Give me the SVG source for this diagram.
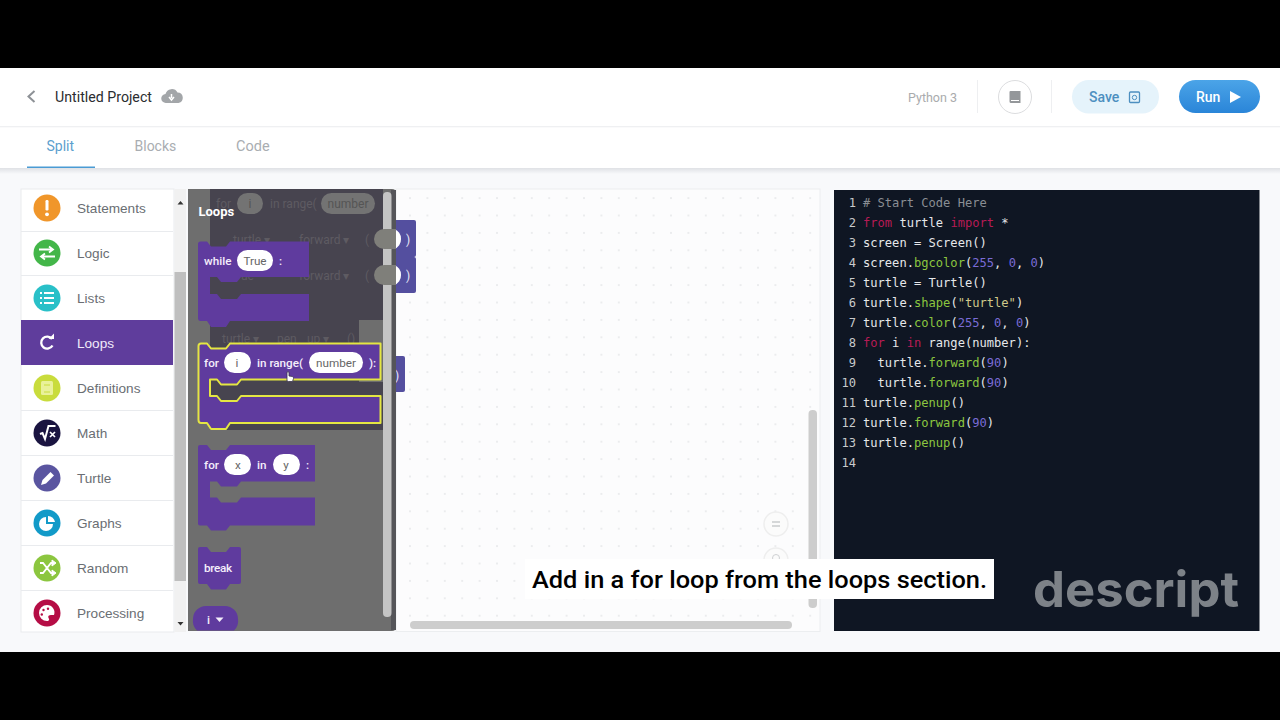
<svg xmlns="http://www.w3.org/2000/svg" width="1280" height="720" viewBox="0 0 1280 720">
<style>
text{font-family:"Roboto","Liberation Sans",sans-serif}
.cat{font-family:"Liberation Sans",Arial,sans-serif;font-size:13.6px;fill:#6a6e73}
.sep{stroke:#e9ebee;stroke-width:1}
.ic{fill:#fff}
.blk{fill:#5f3b9e}
.bt{font-size:11.700px;font-weight:500;fill:#f4eefb}
.pill{fill:#fff}
.pt{font-size:11.700px;fill:#666;text-anchor:middle}
.gh{font-size:12px;fill:#5e5b62}
.ghp{fill:#737373}
.code{font-family:"DejaVu Sans Mono","Liberation Mono",monospace;font-size:12.1px;fill:#e6e8ea}
.ln{font-family:"DejaVu Sans Mono","Liberation Mono",monospace;font-size:12.1px;fill:#c8cacc;text-anchor:end}
.k{fill:#b81b55}.f{fill:#8cc63f}.n{fill:#7a6cd6}.s{fill:#cfc98a}.c{fill:#8a8e94}
</style>
<defs>
<pattern id="dots" x="410" y="441.7" width="17.4" height="17.4" patternUnits="userSpaceOnUse"><rect x="-0.6" y="-0.6" width="1.2" height="1.2" fill="#cfd2d6"/><rect x="16.8" y="-0.6" width="1.2" height="1.2" fill="#cfd2d6"/><rect x="-0.6" y="16.8" width="1.2" height="1.2" fill="#cfd2d6"/><rect x="16.8" y="16.8" width="1.2" height="1.2" fill="#cfd2d6"/></pattern>
<linearGradient id="runG" x1="0" y1="0" x2="0" y2="1"><stop offset="0" stop-color="#4ba4e8"/><stop offset="1" stop-color="#2a85d8"/></linearGradient>
<linearGradient id="shad" x1="0" y1="0" x2="0" y2="1"><stop offset="0" stop-color="#dfe1e5"/><stop offset="1" stop-color="#f8f9fb"/></linearGradient>
</defs>

<rect width="1280" height="720" fill="#000"/>
<rect y="68" width="1280" height="584" fill="#f8f9fb"/>

<g id="header">
<rect y="68" width="1280" height="58" fill="#fff"/>
<rect y="126" width="1280" height="1.5" fill="#eff0f2"/>
<path d="M34.5 91 L28.500 96.500 L34.500 102" fill="none" stroke="#8d9196" stroke-width="2"/>
<text x="55" y="101.500" font-size="14.200" fill="#2b2d30">Untitled Project</text>
<path d="M166 103 a4.500 4.500 0 0 1 -.5 -9 a6.500 6.500 0 0 1 12 -1.500 a5.300 5.300 0 0 1 1 10.500 Z" fill="#a3a6a9"/>
<path d="M171.500 94 v4 M169 97 l2.500 3 l2.500 -3" fill="none" stroke="#fff" stroke-width="1.500"/>
<text x="908" y="101.500" font-size="12.500" fill="#a9abad">Python 3</text>
<rect x="977" y="80" width="1" height="33" fill="#eeeff1"/>
<rect x="1051" y="80" width="1" height="33" fill="#eeeff1"/>
</g>
<g id="book-button">
<circle cx="1015" cy="97" r="16.500" fill="#fff" stroke="#dcdddf"/>
<path d="M1009.500 92 q0 -1 1 -1 h10 v12 h-9.500 a1.500 1.500 0 0 1 -1.500 -1.500 Z" fill="#94979a"/>
<rect x="1011" y="100" width="8" height="1" fill="#fff"/>
</g>
<g id="save-button">
<rect x="1072" y="80" width="87" height="33.500" rx="16.700" fill="#e5f3fb"/>
<text x="1089" y="101.500" font-size="14" font-weight="500" fill="#4c8fc0">Save</text>
<rect x="1129.500" y="92" width="10" height="10.500" rx="1" fill="none" stroke="#4c8fc0" stroke-width="1.300"/>
<circle cx="1134.500" cy="97.500" r="2.200" fill="none" stroke="#4c8fc0"/>
</g>
<g id="run-button">
<rect x="1179" y="80" width="81" height="33" rx="16.500" fill="url(#runG)"/>
<text x="1196" y="101.500" font-size="14" font-weight="500" fill="#fff">Run</text>
<path d="M1230 91 L1241 97 L1230 103 Z" fill="#fff"/>
</g>

<g id="tabs">
<rect y="127.500" width="1280" height="40.500" fill="#fff"/>
<rect y="168" width="1280" height="6" fill="url(#shad)"/>
<text x="46.500" y="151" font-size="14" fill="#5c9fce">Split</text>
<text x="134.500" y="151" font-size="14" fill="#a9adb1">Blocks</text>
<text x="236" y="151" font-size="14.500" fill="#a9adb1">Code</text>
<rect x="27" y="166.500" width="68" height="1.500" fill="#4a9bd4"/>
</g>

<g id="canvas">
<rect x="396" y="189" width="424" height="442.500" fill="#fcfcfd" stroke="#eceef0"/>
<rect x="396" y="189" width="424" height="442" fill="url(#dots)"/>
<circle cx="776" cy="524" r="12" fill="#fbfbfb" stroke="#eeeeee" stroke-width="1.500"/>
<path d="M772 522 h8 M772 526 h8" stroke="#c9cbcd" stroke-width="1.700"/>
<circle cx="776" cy="560" r="12" fill="#fbfbfb" stroke="#eeeeee" stroke-width="1.500"/>
<circle cx="776" cy="558" r="3.500" fill="none" stroke="#cfd1d3"/>
<rect x="808.500" y="410" width="8.500" height="198" rx="4" fill="#cdcdcd"/>
<rect x="410" y="621" width="382" height="8" rx="4" fill="#cdcdcd"/>
</g>

<g id="sidebar">
<rect x="21" y="189" width="153" height="443" fill="#fff" stroke="#e9ebee"/>
<path class="sep" d="M21 231.500H173M21 275.500H173M21 410.500H173M21 455.500H173M21 500.500H173M21 545.500H173M21 590.500H173"/>
<rect x="174.500" y="189" width="11.500" height="443" fill="#f1f1f1"/>
<rect x="174.500" y="272" width="11.500" height="309" fill="#bfbfbf"/>
<path d="M177.500 204.500 h6 l-3 -3.500 Z M177.500 622 h6 l-3 3.500 Z" fill="#333"/>
</g>
<g id="cat-statements"><circle cx="47" cy="208" r="13.500" fill="#f0962a"/><rect class="ic" x="45.500" y="200" width="3" height="10.500" rx="1.200"/><circle class="ic" cx="47" cy="214.300" r="1.900"/><text class="cat" x="77" y="212.800">Statements</text></g>
<g id="cat-logic"><circle cx="47" cy="253" r="13.500" fill="#43b649"/><path d="M39 249.500 h13 M49 246.500 l4 3 l-4 3 M55 256.500 h-13 M45 253.500 l-4 3 l4 3" fill="none" stroke="#fff" stroke-width="1.800"/><text class="cat" x="77" y="257.800">Logic</text></g>
<g id="cat-lists"><circle cx="47" cy="298" r="13.500" fill="#29c0c8"/><path d="M44 293 h10 M44 298 h10 M44 303 h10 M40 293 h2 M40 298 h2 M40 303 h2" stroke="#fff" stroke-width="2.200"/><text class="cat" x="77" y="302.800">Lists</text></g>
<g id="cat-loops"><rect x="21" y="320" width="152" height="45" fill="#5f3d9c"/><path d="M52 339 a6 6 0 1 0 .5 6.500" fill="none" stroke="#fff" stroke-width="2.300"/><path d="M48.500 339 h5.500 v-5.500 Z" fill="#fff"/><text class="cat" x="77" y="347.800" style="fill:#f1ebfa">Loops</text></g>
<g id="cat-definitions"><circle cx="47" cy="388" r="13.500" fill="#c9dc3c"/><rect x="41" y="381" width="12" height="14" rx="1.500" fill="#e9f19a"/><path d="M44 385 h6 M44 392 h6" stroke="#c9dc3c"/><text class="cat" x="77" y="392.800">Definitions</text></g>
<g id="cat-math"><circle cx="47" cy="433" r="13.500" fill="#1a1440"/><path d="M40 434 l2.500 -1 l2.500 6 l3.500 -13 h7" fill="none" stroke="#fff" stroke-width="2"/><path d="M50 432 l5 5 M55 432 l-5 5" stroke="#fff" stroke-width="1.700"/><text class="cat" x="77" y="437.800">Math</text></g>
<g id="cat-turtle"><circle cx="47" cy="478" r="13.500" fill="#5a55a0"/><path d="M41 485 l1.500 -5 l8 -8 l3.500 3.500 l-8 8 Z" fill="#fff"/><text class="cat" x="77" y="482.800">Turtle</text></g>
<g id="cat-graphs"><circle cx="47" cy="523" r="13.500" fill="#129ac8"/><circle cx="46" cy="524" r="7" fill="#fff"/><path d="M46 524 v-8 a8 8 0 0 1 8 8 Z" fill="#129ac8"/><path d="M48 522 v-6 a7 7 0 0 1 7 6 Z" fill="#fff"/><text class="cat" x="77" y="527.800">Graphs</text></g>
<g id="cat-random"><circle cx="47" cy="568" r="13.500" fill="#8cc63f"/><path d="M40 563 h3 l8 10 h3 M40 573 h3 l8 -10 h3" fill="none" stroke="#fff" stroke-width="1.800"/><path d="M52 560 l4 3 l-4 3 Z M52 570 l4 3 l-4 3 Z" fill="#fff" stroke="#fff"/><text class="cat" x="77" y="572.800">Random</text></g>
<g id="cat-processing"><circle cx="47" cy="613" r="13.500" fill="#b50d45"/><path d="M47 605 a8 8 0 1 0 0 16 c2.500 0 2.500 -2 1.500 -3 c-1 -2 .5 -3 2.500 -3 h3 c2 -5 -2 -10 -7 -10 Z" fill="#fff"/><circle cx="43.500" cy="610" r="1.200" fill="#b50d45"/><circle cx="48" cy="608.700" r="1.200" fill="#b50d45"/><circle cx="41.800" cy="614.500" r="1.200" fill="#b50d45"/><text class="cat" x="77" y="617.800">Processing</text></g>

<g id="stray-blocks">
<rect x="390" y="220" width="26" height="37" rx="2" fill="#544f9f"/>
<rect x="390" y="257" width="26" height="36" rx="2" fill="#544f9f"/>
<rect x="390" y="356" width="15" height="36" rx="2" fill="#544f9f"/>
<path d="M394 229 h-2 v20 h2 a10 10 0 0 0 7 -10 a10 10 0 0 0 -7 -10 Z" fill="#fff"/>
<path d="M394 265 h-2 v20 h2 a10 10 0 0 0 7 -10 a10 10 0 0 0 -7 -10 Z" fill="#fff"/>
<text x="406" y="243.500" font-size="12" fill="#e9e8f5">)</text>
<text x="406" y="279.500" font-size="12" fill="#e9e8f5">)</text>
<text x="395" y="380" font-size="12" fill="#e9e8f5">)</text>
</g>

<g id="flyout">
<path d="M188 189 H392 Q396 189 396 193 V627 Q396 631 392 631 H188 Z" fill="#6e6e6e"/>
<rect x="210" y="189" width="173" height="241" fill="#47444f"/>
<rect x="359" y="320" width="24" height="62" fill="#6e6e6e"/>
<rect x="210" y="425" width="147" height="5" fill="#47444f"/>
<rect x="391" y="190" width="5" height="440" fill="#555559"/>
<rect x="383" y="192" width="8.500" height="425" rx="4" fill="#c4c4c4"/>
</g>
<g id="ghost-blocks">
<text class="gh" x="216" y="207.500">for</text>
<rect class="ghp" x="237" y="193" width="26" height="21" rx="10.500"/>
<text class="gh" x="250" y="207.500" text-anchor="middle" style="fill:#555">i</text>
<text class="gh" x="270" y="207.500">in range(</text>
<rect class="ghp" x="321" y="193" width="54" height="21" rx="10.500"/>
<text class="gh" x="348" y="207.500" text-anchor="middle" style="fill:#555">number</text>
<text class="gh" x="233" y="243.500">turtle ▾</text>
<text class="gh" x="299" y="243.500">forward ▾</text>
<text class="gh" x="365" y="243.500">(</text>
<path d="M396 229 h-12 a10 10 0 0 0 0 20 h12 Z" fill="#7f7f7a"/>
<text class="gh" x="233" y="279.500">true</text>
<text class="gh" x="299" y="279.500">forward ▾</text>
<text class="gh" x="365" y="279.500">(</text>
<path d="M396 265 h-12 a10 10 0 0 0 0 20 h12 Z" fill="#7f7f7a"/>
<text class="gh" x="222" y="343">turtle ▾</text>
<text class="gh" x="277" y="343">pen</text>
<text class="gh" x="307" y="343">up ▾</text>
<text class="gh" x="347" y="343">()</text>
</g>
<g id="flyout-title"><text x="198.500" y="216" font-size="13" font-weight="700" fill="#fff">Loops</text></g>

<g id="block-while">
<path class="blk" d="M198 244 Q198 241.500 200.500 241.500 H207 l4 5 h15 l4 -5 H309 V277 H241 l-4 5 h-16 l-4 -5 H210 V294 H217 l4 5 h16 l4 -5 H309 V321 H230 l-4 6 h-15 l-4 -6 H200.500 Q198 321 198 318 Z"/>
<text class="bt" x="204" y="265">while</text>
<rect class="pill" x="237" y="250" width="36" height="21" rx="10.500"/>
<text class="pt" x="255" y="265">True</text>
<text class="bt" x="279" y="265">:</text>
</g>
<g id="block-for-range">
<path class="blk" stroke="#e4e642" stroke-width="2" stroke-linejoin="round" d="M198.500 346 Q198.500 343.500 201 343.500 H207 l4 5 h15 l4 -5 H380.500 V379.500 H241 l-4 5 h-16 l-4 -5 H210 V396 H217 l4 5 h16 l4 -5 H380.500 V423 H230 l-4 6 h-15 l-4 -6 H201 Q198.500 423 198.500 420 Z"/>
<text class="bt" x="204" y="367">for</text>
<rect class="pill" x="224" y="352" width="27" height="21" rx="10.500"/>
<text class="pt" x="237" y="367">i</text>
<text class="bt" x="257" y="367">in range(</text>
<rect class="pill" x="309" y="352" width="54" height="21" rx="10.500"/>
<text class="pt" x="336" y="367">number</text>
<text class="bt" x="369" y="367">):</text>
<path d="M287 381 v-8 q0 -1.500 1 -1.500 q1 0 1 1.500 v3 l3.500 .5 q1 .5 1 2 l-1 3 h-4 Z" fill="#fff" stroke="#3b3350" stroke-width=".8"/>
</g>
<g id="block-for-in">
<path class="blk" d="M198 447 Q198 445 200 445 H207 l4 5 h15 l4 -5 H315 V481.500 H241 l-4 5 h-16 l-4 -5 H210 V497.500 H217 l4 5 h16 l4 -5 H315 V525.500 H230 l-4 5 h-15 l-4 -5 H200 Q198 525.500 198 523.500 Z"/>
<text class="bt" x="204" y="469">for</text>
<rect class="pill" x="224" y="454" width="27" height="21" rx="10.500"/>
<text class="pt" x="238" y="469">x</text>
<text class="bt" x="257" y="469">in</text>
<rect class="pill" x="273" y="454" width="27" height="21" rx="10.500"/>
<text class="pt" x="286" y="469">y</text>
<text class="bt" x="306" y="469">:</text>
</g>
<g id="block-break">
<path class="blk" d="M198 549 Q198 547 200 547 H207 l4 5 h15 l4 -5 H239 Q241 547 241 549 V582 Q241 584 239 584 H230 l-4 5.500 h-15 l-4 -5.500 H200 Q198 584 198 582 Z"/>
<text class="bt" x="204" y="571.500" textLength="28">break</text>
</g>
<g id="block-i">
<path class="blk" d="M193 619 A13 13 0 0 1 206 606 H225 A13 13 0 0 1 238 619 A13 13 0 0 1 234 630.500 H197 A13 13 0 0 1 193 619 Z"/>
<text class="bt" x="207" y="624">i</text>
<path d="M215.500 617.500 h8 l-4 4.500 Z" fill="#f4eefb"/>
</g>

<g id="code-panel">
<rect x="834" y="190" width="425.500" height="441" fill="#0f1623"/>
<text class="ln" x="856" y="207">1</text><text class="code" x="863" y="207"><tspan class="c"># Start Code Here</tspan></text>
<text class="ln" x="856" y="227">2</text><text class="code" x="863" y="227"><tspan class="k">from</tspan> turtle <tspan class="k">import</tspan> *</text>
<text class="ln" x="856" y="247">3</text><text class="code" x="863" y="247">screen = Screen()</text>
<text class="ln" x="856" y="267">4</text><text class="code" x="863" y="267">screen.<tspan class="f">bgcolor</tspan>(<tspan class="n">255</tspan>, <tspan class="n">0</tspan>, <tspan class="n">0</tspan>)</text>
<text class="ln" x="856" y="287">5</text><text class="code" x="863" y="287">turtle = Turtle()</text>
<text class="ln" x="856" y="307">6</text><text class="code" x="863" y="307">turtle.<tspan class="f">shape</tspan>(<tspan class="s">"turtle"</tspan>)</text>
<text class="ln" x="856" y="327">7</text><text class="code" x="863" y="327">turtle.<tspan class="f">color</tspan>(<tspan class="n">255</tspan>, <tspan class="n">0</tspan>, <tspan class="n">0</tspan>)</text>
<text class="ln" x="856" y="347">8</text><text class="code" x="863" y="347"><tspan class="k">for</tspan> i <tspan class="k">in</tspan> range(number):</text>
<text class="ln" x="856" y="367">9</text><text class="code" x="877.600" y="367">turtle.<tspan class="f">forward</tspan>(<tspan class="n">90</tspan>)</text>
<text class="ln" x="856" y="387">10</text><text class="code" x="877.600" y="387">turtle.<tspan class="f">forward</tspan>(<tspan class="n">90</tspan>)</text>
<text class="ln" x="856" y="407">11</text><text class="code" x="863" y="407">turtle.<tspan class="f">penup</tspan>()</text>
<text class="ln" x="856" y="427">12</text><text class="code" x="863" y="427">turtle.<tspan class="f">forward</tspan>(<tspan class="n">90</tspan>)</text>
<text class="ln" x="856" y="447">13</text><text class="code" x="863" y="447">turtle.<tspan class="f">penup</tspan>()</text>
<text class="ln" x="856" y="467">14</text>
</g>

<g id="caption">
<rect x="525" y="559" width="469" height="40" fill="#fff"/>
<text x="532" y="588" font-size="24" font-weight="500" fill="#000" textLength="455" lengthAdjust="spacingAndGlyphs">Add in a for loop from the loops section.</text>
</g>
<g id="watermark"><text x="1033" y="607" style="font-family:Inter,'Open Sans',sans-serif" font-size="50" font-weight="700" fill="#7d8288" textLength="206" lengthAdjust="spacingAndGlyphs">descript</text></g>
</svg>
